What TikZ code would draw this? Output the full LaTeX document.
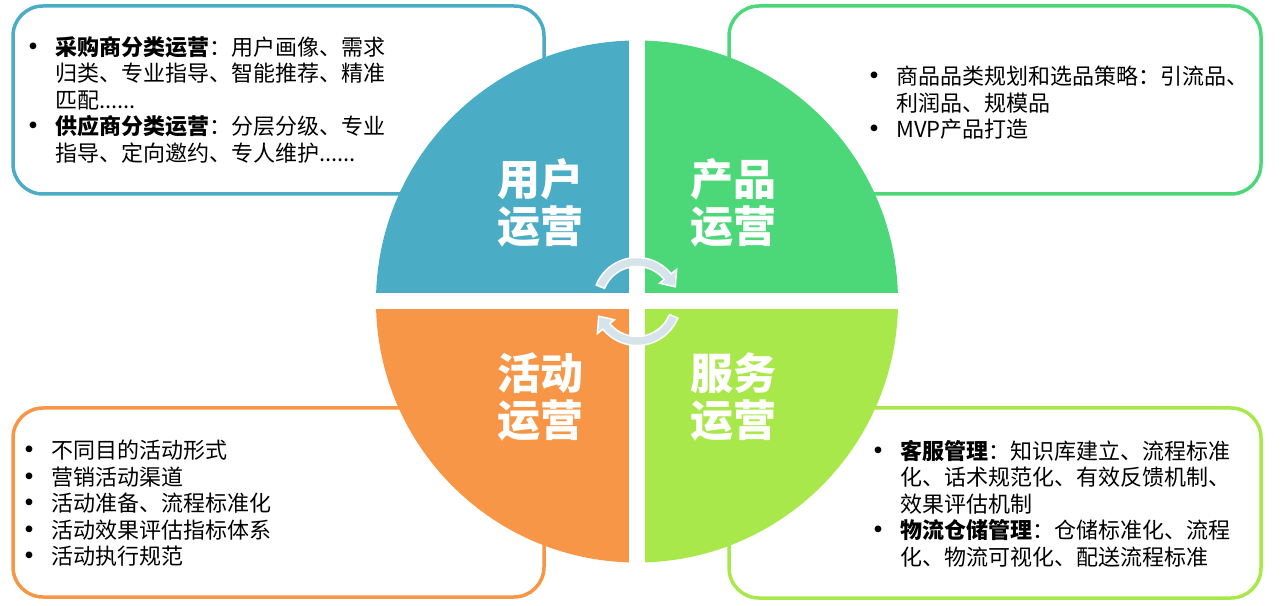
\documentclass[tikz,border=0pt]{standalone}
\usepackage{fontspec}
\setmainfont{Noto Sans CJK SC}
\definecolor{cblue}{HTML}{4BACC6}
\definecolor{cgreen}{HTML}{4CD778}
\definecolor{clime}{HTML}{A9E84A}
\definecolor{corange}{HTML}{F79646}
\definecolor{carrow}{HTML}{D5E3EB}
\newcommand\bul{\llap{\makebox[0pt][c]{\fontsize{24}{24}\selectfont\bfseries•}\hspace{22pt}}}
\begin{document}
\begin{tikzpicture}[x=1pt,y=1pt,
  box/.style={line width=3.5pt, rounded corners=30pt},
  body/.style={anchor=north west, inner sep=0pt, align=left,
    font=\fontsize{22}{26.5}\selectfont, text=black},
  big/.style={text=white, font=\fontsize{43}{47}\selectfont\bfseries,
    align=center, inner sep=0pt},
  cyc/.style={fill=carrow, draw=white, line width=1.5pt}]
\useasboundingbox (0,0) rectangle (1281,605);
% boxes
\draw[box, draw=cblue] (13,411) rectangle (544,599);
\draw[box, draw=cgreen] (729,411) rectangle (1261,599);
\draw[box, draw=corange] (13,8) rectangle (544,197);
\draw[box, draw=clime] (729,7) rectangle (1261,197);
% circle quadrants
\begin{scope}
  \clip (637,303.5) circle[radius=261pt];
  \fill[cblue] (370,311.5) rectangle (629,570);
  \fill[cgreen] (645,311.5) rectangle (905,570);
  \fill[corange] (370,37) rectangle (629,295.5);
  \fill[clime] (645,37) rectangle (905,295.5);
\end{scope}
% cycle arrows
\begin{scope}[shift={(637,303.5)}]
  \draw[cyc] (158:44pt) arc[start angle=158,end angle=39,radius=44pt]
    -- (39:51pt) -- (21:41pt) -- (39:29pt) -- (39:35pt)
    arc[start angle=39,end angle=158,radius=35pt] -- cycle;
  \begin{scope}[rotate=180]
  \draw[cyc] (158:44pt) arc[start angle=158,end angle=39,radius=44pt]
    -- (39:51pt) -- (21:41pt) -- (39:29pt) -- (39:35pt)
    arc[start angle=39,end angle=158,radius=35pt] -- cycle;
  \end{scope}
\end{scope}
% big labels
\node[big] (user) at (540,402) {用户\\运营};
\node[big] (prod) at (733,402) {产品\\运营};
\node[big] (act) at (540,208) {活动\\运营};
\node[big] (serv) at (733,208) {服务\\运营};
% box texts
\node[body] (tltext) at (55,569) {\bul\textbf{采购商分类运营}：用户画像、需求\\归类、专业指导、智能推荐、精准\\匹配......\\\bul\textbf{供应商分类运营}：分层分级、专业\\指导、定向邀约、专人维护......};
\node[body] (trtext) at (896,539) {\bul 商品品类规划和选品策略：引流品、\\利润品、规模品\\\bul MVP产品打造};
\node[body] (bltext) at (51,165) {\bul 不同目的活动形式\\\bul 营销活动渠道\\\bul 活动准备、流程标准化\\\bul 活动效果评估指标体系\\\bul 活动执行规范};
\node[body] (brtext) at (900,165) {\bul\textbf{客服管理}：知识库建立、流程标准\\化、话术规范化、有效反馈机制、\\效果评估机制\\\bul\textbf{物流仓储管理}：仓储标准化、流程\\化、物流可视化、配送流程标准};
\end{tikzpicture}
\end{document}
